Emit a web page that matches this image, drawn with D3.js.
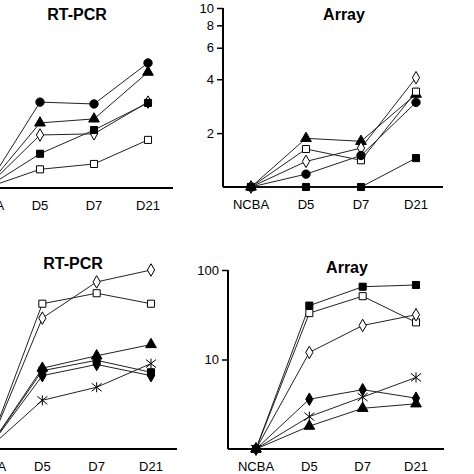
<!DOCTYPE html>
<html><head><meta charset="utf-8">
<script src="https://cdn.jsdelivr.net/npm/d3@7/dist/d3.min.js"></script>
<style>body{margin:0;background:#fff}svg{display:block}text{font-family:"Liberation Sans",Arial,sans-serif}</style>
</head><body><svg id="c" width="474" height="474"></svg>
<script>
const categories = ["NCBA","D5","D7","D21"];
// top-left RT-PCR
const tlSeries = [
  {m:"circleF", v:[1,3.0,2.93,4.95]},
  {m:"triF", v:[1,2.3,2.42,4.4]},
  {m:"diaO", v:[1,1.97,2.0,3.0]},
  {m:"sqF", v:[1,1.55,2.1,2.97]},
  {m:"sqO", v:[1,1.27,1.36,1.85]}
];
// top-right Array
const trSeries = [
  {m:"triF", v:[1,1.87,1.8,3.3]},
  {m:"sqO", v:[1,1.63,1.41,3.41]},
  {m:"diaO", v:[1,1.39,1.65,4.08]},
  {m:"circleF", v:[1,1.18,1.5,2.97]},
  {m:"sqF", v:[1,1,1,1.45]}
];
// bottom-left RT-PCR
const blSeries = [
  {m:"diaO", v:[1,29,73.6,100]},
  {m:"sqO", v:[1,42,55,42]},
  {m:"triF", v:[1,8,11,14.7]},
  {m:"sqF", v:[1,7.5,9.8,7.2]},
  {m:"diaF", v:[1,6.6,8.8,6.6]},
  {m:"star", v:[1,3.5,4.9,9]}
];
// bottom-right Array
const brSeries = [
  {m:"sqF", v:[1,40,65,68]},
  {m:"sqO", v:[1,33,51,26]},
  {m:"diaO", v:[1,12,24,31.6]},
  {m:"star", v:[1,2.3,3.8,6.3]},
  {m:"diaF", v:[1,3.6,4.6,3.7]},
  {m:"triF", v:[1,1.8,2.85,3.2]}
];
const topTicks = [2,4,6,8,10];
const botTicks = [10,100];

const svg = d3.select("#c");
function panel(o){
  const g = svg.append("g");
  const x = d3.scalePoint().domain(categories).range(o.xr);
  const y = d3.scaleLog().domain(o.yd).range(o.yr);
  // x axis line
  g.append("line").attr("x1",o.axx[0]).attr("x2",o.axx[1]).attr("y1",o.yr[0]).attr("y2",o.yr[0]).attr("stroke","#000").attr("stroke-width",2);
  g.selectAll(".xl").data(categories).join("text").attr("x",d=>x(d)).attr("y",o.yr[0]+22).attr("text-anchor","middle").attr("font-size",13).text(d=>d);
  if(o.yaxis!==undefined){
    const ax = g.append("g").attr("transform",`translate(${o.yaxis},0)`).call(d3.axisLeft(y).tickValues(o.ticks).tickFormat(d3.format("d")).tickSize(6).tickSizeOuter(0));
    ax.select(".domain").attr("stroke-width",2).attr("d",`M0,${o.yr[0]}V${y(o.ticks[o.ticks.length-1])}`);
    ax.selectAll(".tick line").attr("stroke-width",1.5);
    ax.selectAll("text").attr("font-size",13).attr("font-family","Liberation Sans,Arial");
  }
  g.append("text").attr("x",o.title[1]).attr("y",o.title[2]).attr("text-anchor","middle").attr("font-size",16).attr("font-weight","bold").text(o.title[0]);
  const line = d3.line().x((d,i)=>x(categories[i])).y(d=>y(d));
  o.series.forEach(s=>{
    g.append("path").attr("d",line(s.v)).attr("fill","none").attr("stroke","#222").attr("stroke-width",1);
  });
  o.series.forEach(s=>{
    s.v.forEach((v,i)=>{
      const px=x(categories[i]), py=y(v);
      const filled = s.m.endsWith("F");
      let type = d3.symbolSquare, size=50;
      if(s.m.startsWith("circle")){type=d3.symbolCircle;size=55;}
      if(s.m.startsWith("tri")){type=d3.symbolTriangle;size=50;}
      if(s.m.startsWith("dia")){type=d3.symbolDiamond;size=45;}
      if(s.m==="star"){
        g.append("path").attr("d",`M${px-5},${py-4}L${px+5},${py+4}M${px-5},${py+4}L${px+5},${py-4}M${px},${py-5}L${px},${py+5}`).attr("stroke","#000").attr("stroke-width",1);
        return;
      }
      g.append("path").attr("d",d3.symbol().type(type).size(size)()).attr("transform",`translate(${px},${py})`)
        .attr("fill",filled?"#000":"#fff").attr("stroke","#000").attr("stroke-width",1);
    });
  });
}
panel({series:tlSeries, xr:[-14,148], yd:[1,10], yr:[188,8], axx:[0,173], title:["RT-PCR",77,20]});
panel({series:trSeries, xr:[251,416], yd:[1,10], yr:[187,8], axx:[223,443], yaxis:223, ticks:topTicks, title:["Array",344,20]});
panel({series:blSeries, xr:[-12,151], yd:[1,100], yr:[449,270], axx:[0,177], title:["RT-PCR",73,269]});
panel({series:brSeries, xr:[256,416], yd:[1,100], yr:[449,270], axx:[228,444], yaxis:228, ticks:botTicks, title:["Array",347,273]});
</script></body></html>
